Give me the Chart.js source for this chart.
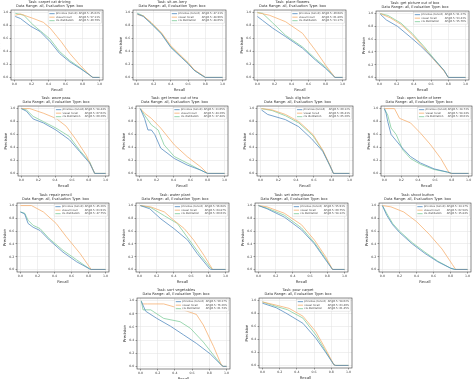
<!DOCTYPE html>
<html>
<head>
<meta charset="utf-8">
<script src="https://cdn.jsdelivr.net/npm/chart.js@4.4.0/dist/chart.umd.min.js"></script>
<style>
  body { margin: 0; background: #fff; }
  #wrap { position: relative; width: 474px; height: 379px; overflow: hidden; }
  #wrap canvas { position: absolute; }
</style>
</head>
<body>
<div id="wrap"></div>
<script>
// ---- data ----
const seriesLabels = ['previous (tuned)', 'visual recall', 'cls distillation'];
const seriesColors = ['#4c86bc', '#f5ac6a', '#7ccb98'];
const recallTicks = [0, 0.2, 0.4, 0.6, 0.8, 1.0];
const precisionTicks = [0, 0.2, 0.4, 0.6, 0.8, 1.0];

const taskNames = [
  'carpet cat driving', 'sit-on-lorry', 'place flowers', 'get picture out of box',
  'wave pass', 'get lemon out of tea', 'dig hole', 'open bottle of beer',
  'repair pencil', 'water plant', 'set wine glasses', 'shoot button',
  'sort vegetables', 'pour carpet'
];
const apPrev    = [45.62, 47.31, 49.08, 51.27, 58.44, 33.05, 60.12, 28.73, 45.26, 56.08, 55.91, 34.17, 50.37, 58.02];
const apVisual  = [57.11, 48.96, 61.80, 53.43, 67.02, 44.29, 66.41, 58.34, 63.91, 64.87, 60.75, 62.58, 76.26, 63.40];
const apDistill = [49.79, 48.05, 53.17, 55.76, 60.29, 37.48, 65.20, 30.61, 47.75, 60.03, 58.12, 35.84, 61.74, 61.45];

// [recall, precision]
const prev1    = [[0.01,0.94],[0.07,0.91],[0.19,0.79],[0.30,0.71],[0.42,0.55],[0.53,0.37],[0.65,0.24],[0.77,0.14],[0.88,0.04],[0.92,0],[1,0]];
const visual1  = [[0.01,0.96],[0.07,0.98],[0.22,0.91],[0.34,0.85],[0.42,0.76],[0.50,0.63],[0.55,0.55],[0.65,0.37],[0.77,0.19],[0.88,0.04],[0.92,0],[1,0]];
const distill1 = [[0.01,0.99],[0.11,0.96],[0.22,0.81],[0.34,0.68],[0.42,0.59],[0.53,0.40],[0.65,0.26],[0.77,0.15],[0.92,0],[1,0]];

const prev2    = [[0.01,0.98],[0.08,0.94],[0.17,0.83],[0.29,0.67],[0.40,0.46],[0.52,0.31],[0.60,0.21],[0.67,0.11],[0.75,0.04],[0.80,0],[1,0]];
const visual2  = [[0.01,0.97],[0.08,0.95],[0.17,0.85],[0.29,0.69],[0.40,0.49],[0.52,0.33],[0.60,0.23],[0.67,0.12],[0.75,0.05],[0.80,0],[1,0]];
const distill2 = [[0.01,0.99],[0.08,0.95],[0.17,0.84],[0.29,0.68],[0.40,0.47],[0.52,0.32],[0.60,0.22],[0.67,0.11],[0.75,0.04],[0.80,0],[1,0]];

const prev3    = [[0,0.94],[0.06,0.88],[0.18,0.76],[0.33,0.63],[0.53,0.45],[0.68,0.27],[0.80,0.14],[0.91,0],[1,0]];
const visual3  = [[0,1.0],[0.14,0.96],[0.33,0.86],[0.53,0.68],[0.68,0.42],[0.80,0.19],[0.91,0],[1,0]];
const distill3 = [[0,1.0],[0.06,0.99],[0.18,0.84],[0.33,0.65],[0.53,0.47],[0.68,0.29],[0.80,0.16],[0.91,0],[1,0]];

const prev4    = [[0.01,0.99],[0.08,0.90],[0.21,0.80],[0.37,0.62],[0.48,0.49],[0.63,0.29],[0.75,0.11],[0.80,0],[1,0]];
const visual4  = [[0.01,1.0],[0.13,0.93],[0.25,0.83],[0.38,0.67],[0.52,0.46],[0.63,0.28],[0.75,0.10],[0.80,0],[1,0]];
const distill4 = [[0.01,1.0],[0.10,0.97],[0.25,0.85],[0.38,0.69],[0.52,0.48],[0.63,0.30],[0.75,0.11],[0.80,0],[1,0]];

const prev5    = [[0,1],[0.06,0.96],[0.14,0.84],[0.26,0.78],[0.41,0.67],[0.57,0.52],[0.69,0.34],[0.81,0.16],[0.87,0],[1,0]];
const visual5  = [[0,1],[0.10,1.0],[0.26,0.93],[0.41,0.85],[0.53,0.73],[0.65,0.52],[0.77,0.28],[0.87,0],[1,0]];
const distill5 = [[0,1],[0.06,0.98],[0.14,0.88],[0.26,0.80],[0.41,0.70],[0.57,0.57],[0.69,0.36],[0.81,0.18],[0.87,0],[1,0]];

const prev6    = [[0.01,1],[0.06,0.85],[0.10,0.67],[0.14,0.67],[0.18,0.60],[0.25,0.39],[0.41,0.23],[0.56,0.13],[0.72,0.05],[0.80,0],[1,0]];
const visual6  = [[0.01,1],[0.06,0.93],[0.14,0.85],[0.25,0.70],[0.41,0.44],[0.56,0.26],[0.72,0.10],[0.80,0],[1,0]];
const distill6 = [[0.01,1],[0.06,0.90],[0.14,0.75],[0.22,0.67],[0.29,0.44],[0.41,0.26],[0.56,0.16],[0.72,0.05],[0.80,0],[1,0]];

const prev7    = [[0.01,0.98],[0.08,0.91],[0.28,0.83],[0.43,0.72],[0.57,0.54],[0.70,0.34],[0.78,0.12],[0.82,0],[1,0]];
const visual7  = [[0.01,1],[0.13,0.98],[0.28,0.91],[0.43,0.80],[0.59,0.60],[0.70,0.36],[0.78,0.13],[0.82,0],[1,0]];
const distill7 = [[0.01,1],[0.13,0.97],[0.28,0.89],[0.43,0.78],[0.59,0.58],[0.70,0.35],[0.78,0.12],[0.82,0],[1,0]];

const prev8    = [[0,1],[0.02,0.93],[0.04,0.80],[0.08,0.60],[0.20,0.41],[0.31,0.26],[0.43,0.16],[0.59,0.07],[0.75,0.02],[0.80,0],[1,0]];
const visual8  = [[0,1],[0.12,1],[0.18,0.85],[0.31,0.78],[0.43,0.62],[0.55,0.44],[0.67,0.23],[0.75,0.05],[0.78,0],[1,0]];
const distill8 = [[0,1],[0.04,0.90],[0.08,0.70],[0.14,0.60],[0.22,0.36],[0.31,0.23],[0.43,0.14],[0.59,0.06],[0.75,0.02],[0.80,0],[1,0]];

const prev9    = [[0,0.90],[0.05,0.87],[0.09,0.72],[0.15,0.66],[0.23,0.61],[0.34,0.46],[0.50,0.27],[0.66,0.12],[0.81,0.01],[0.83,0],[1,0]];
const visual9  = [[0,1],[0.13,1],[0.27,0.90],[0.42,0.72],[0.54,0.51],[0.70,0.25],[0.81,0.04],[0.83,0],[1,0]];
const distill9 = [[0,0.90],[0.05,0.88],[0.09,0.77],[0.15,0.69],[0.23,0.64],[0.34,0.48],[0.50,0.30],[0.66,0.15],[0.81,0.01],[0.83,0],[1,0]];

const prev10    = [[0.01,1],[0.12,0.95],[0.25,0.79],[0.40,0.64],[0.56,0.46],[0.67,0.25],[0.81,0.02],[0.83,0],[1,0]];
const visual10  = [[0.01,1],[0.13,0.98],[0.29,0.90],[0.40,0.77],[0.52,0.64],[0.63,0.46],[0.75,0.22],[0.85,0],[1,0]];
const distill10 = [[0.01,1],[0.13,0.97],[0.29,0.84],[0.44,0.72],[0.58,0.46],[0.71,0.22],[0.83,0.02],[0.85,0],[1,0]];

const prev11    = [[0,1],[0.10,0.95],[0.30,0.82],[0.50,0.62],[0.65,0.40],[0.78,0.15],[0.86,0],[1,0]];
const visual11  = [[0,1],[0.10,0.98],[0.30,0.88],[0.50,0.70],[0.65,0.46],[0.78,0.20],[0.86,0],[1,0]];
const distill11 = [[0,1],[0.10,0.96],[0.30,0.85],[0.50,0.65],[0.65,0.42],[0.78,0.17],[0.86,0],[1,0]];

const prev12    = [[0,1],[0.05,0.85],[0.12,0.70],[0.20,0.58],[0.35,0.40],[0.50,0.25],[0.65,0.12],[0.80,0.02],[0.85,0],[1,0]];
const visual12  = [[0,1],[0.10,0.98],[0.25,0.90],[0.40,0.75],[0.55,0.55],[0.70,0.32],[0.82,0.08],[0.86,0],[1,0]];
const distill12 = [[0,1],[0.05,0.88],[0.12,0.72],[0.20,0.60],[0.35,0.42],[0.50,0.27],[0.65,0.13],[0.80,0.02],[0.85,0],[1,0]];

const prev13    = [[0.01,0.99],[0.06,0.84],[0.19,0.73],[0.35,0.61],[0.50,0.48],[0.65,0.35],[0.81,0.19],[0.94,0.02],[0.96,0],[1,0]];
const visual13  = [[0.02,0.95],[0.08,0.95],[0.27,0.95],[0.38,0.91],[0.54,0.84],[0.65,0.79],[0.73,0.63],[0.85,0.30],[0.94,0.02],[0.96,0],[1,0]];
const distill13 = [[0.01,1],[0.03,0.86],[0.12,0.86],[0.27,0.73],[0.46,0.68],[0.58,0.58],[0.73,0.37],[0.94,0.02],[0.96,0],[1,0]];

const prev14    = [[0,0.96],[0.16,0.89],[0.27,0.81],[0.47,0.65],[0.62,0.42],[0.73,0.21],[0.83,0.01],[0.85,0],[1,0]];
const visual14  = [[0,0.98],[0.16,0.93],[0.31,0.88],[0.47,0.76],[0.62,0.52],[0.73,0.26],[0.83,0.01],[0.85,0],[1,0]];
const distill14 = [[0,0.98],[0.16,0.91],[0.29,0.86],[0.47,0.73],[0.62,0.47],[0.73,0.23],[0.83,0.01],[0.85,0],[1,0]];

const prevCurves    = [prev1, prev2, prev3, prev4, prev5, prev6, prev7, prev8, prev9, prev10, prev11, prev12, prev13, prev14];
const visualCurves  = [visual1, visual2, visual3, visual4, visual5, visual6, visual7, visual8, visual9, visual10, visual11, visual12, visual13, visual14];
const distillCurves = [distill1, distill2, distill3, distill4, distill5, distill6, distill7, distill8, distill9, distill10, distill11, distill12, distill13, distill14];

// ---- layout: pixel spots of tick 0 / tick 1 on each panel [x0, x1, y1, y0] ----
const panelTicks = [
  [14, 100, 12.7, 77.3], [136, 223, 12.7, 77.3], [257.7, 343, 12.7, 77.3], [379, 466, 13.3, 77.3],
  [21.7, 106, 109, 173], [139.7, 225, 109, 173], [261, 349, 109, 173], [384, 469, 109, 173],
  [20.7, 106, 205.5, 269.3], [139.7, 226, 205.5, 269.3], [258, 345, 205.5, 269], [382, 468, 205.5, 269],
  [140, 226.7, 301, 366], [262, 349, 301, 365]
];
const MARGIN = 0.04, YAXIS_W = 15, XAXIS_H = 13, TITLE_H = 10, PAD_R = 3;
const FONT = '"DejaVu Sans", sans-serif';

const legendBox = {
  id: 'legendBox',
  afterDatasetsDraw(chart, args, opts) {
    const ctx = chart.ctx, a = chart.chartArea;
    const w = (a.right - a.left) * 0.58, rh = 3.5, h = rh * 3 + 1.4;
    const x = a.right - w - 1.5, y = a.top + 1.2;
    ctx.save();
    ctx.fillStyle = 'rgba(255,255,255,0.85)';
    ctx.strokeStyle = '#d4d4d4';
    ctx.lineWidth = 0.5;
    ctx.fillRect(x, y, w, h);
    ctx.strokeRect(x, y, w, h);
    ctx.font = '2.6px ' + FONT;
    ctx.textBaseline = 'middle';
    chart.data.datasets.forEach((ds, i) => {
      const cy = y + 0.7 + rh * (i + 0.5);
      ctx.strokeStyle = ds.borderColor;
      ctx.lineWidth = 0.8;
      ctx.beginPath(); ctx.moveTo(x + 1.2, cy); ctx.lineTo(x + 6.5, cy); ctx.stroke();
      ctx.fillStyle = '#444';
      ctx.textAlign = 'left';
      ctx.fillText(ds.label, x + 7.8, cy);
      ctx.textAlign = 'right';
      ctx.fillText('AP@0.5: ' + opts.ap[i].toFixed(2) + '%', x + w - 1.2, cy);
    });
    ctx.restore();
  },
  afterDraw(chart) {
    const ctx = chart.ctx, a = chart.chartArea;
    ctx.save();
    ctx.strokeStyle = '#3a3a3a';
    ctx.lineWidth = 0.6;
    ctx.strokeRect(a.left, a.top, a.right - a.left, a.bottom - a.top);
    ctx.restore();
  }
};

const wrap = document.getElementById('wrap');
const toXY = pts => pts.map(p => ({ x: p[0], y: p[1] }));

panelTicks.forEach((t, i) => {
  const sx = t[1] - t[0], sy = t[3] - t[2];
  const left = t[0] - MARGIN * sx, right = t[1] + MARGIN * sx;
  const top = t[2] - MARGIN * sy, bottom = t[3] + MARGIN * sy;
  const L = Math.round(left - YAXIS_W), T = Math.round(top - TITLE_H);
  const W = Math.round(right + PAD_R - L), H = Math.round(bottom + XAXIS_H - T);

  const canvas = document.createElement('canvas');
  canvas.width = W; canvas.height = H;
  canvas.style.left = L + 'px'; canvas.style.top = T + 'px';
  canvas.style.width = W + 'px'; canvas.style.height = H + 'px';
  wrap.appendChild(canvas);

  const curves = [prevCurves[i], visualCurves[i], distillCurves[i]];
  const axisStyle = (ticks, title, isX) => ({
    type: 'linear',
    min: -MARGIN, max: 1 + MARGIN,
    afterBuildTicks: axis => { axis.ticks = ticks.map(v => ({ value: v })); },
    afterFit: axis => { if (isX) axis.height = XAXIS_H; else axis.width = YAXIS_W; },
    ticks: { font: { size: 3.2, family: FONT }, color: '#444', padding: 1.2, callback: v => v.toFixed(1) },
    grid: { color: '#e0e0e0', lineWidth: 0.5, tickLength: 1.5, tickColor: '#444' },
    border: { display: false },
    title: { display: true, text: title, font: { size: 3.8, family: FONT }, color: '#333', padding: { top: 0.5, bottom: 0.5 } }
  });

  new Chart(canvas, {
    type: 'line',
    data: {
      datasets: curves.map((c, k) => ({
        label: seriesLabels[k],
        data: toXY(c),
        borderColor: seriesColors[k],
        borderWidth: 0.75,
        pointRadius: 0,
        fill: false,
        tension: 0
      }))
    },
    options: {
      responsive: false,
      animation: false,
      devicePixelRatio: 1,
      layout: { padding: { left: 0, top: 0, right: PAD_R, bottom: 0 } },
      scales: {
        x: axisStyle(recallTicks, 'Recall', true),
        y: axisStyle(precisionTicks, 'Precision', false)
      },
      plugins: {
        legend: { display: false },
        tooltip: { enabled: false },
        title: {
          display: true,
          text: ['Task: ' + taskNames[i], 'Data Range: all, Evaluation Type: box'],
          font: { size: 3.6, family: FONT, weight: 'normal', lineHeight: 1.1 },
          color: '#333',
          padding: { top: 0.5, bottom: 1.6 }
        },
        legendBox: { ap: [apPrev[i], apVisual[i], apDistill[i]] }
      }
    },
    plugins: [legendBox]
  });
});
</script>
</body>
</html>
